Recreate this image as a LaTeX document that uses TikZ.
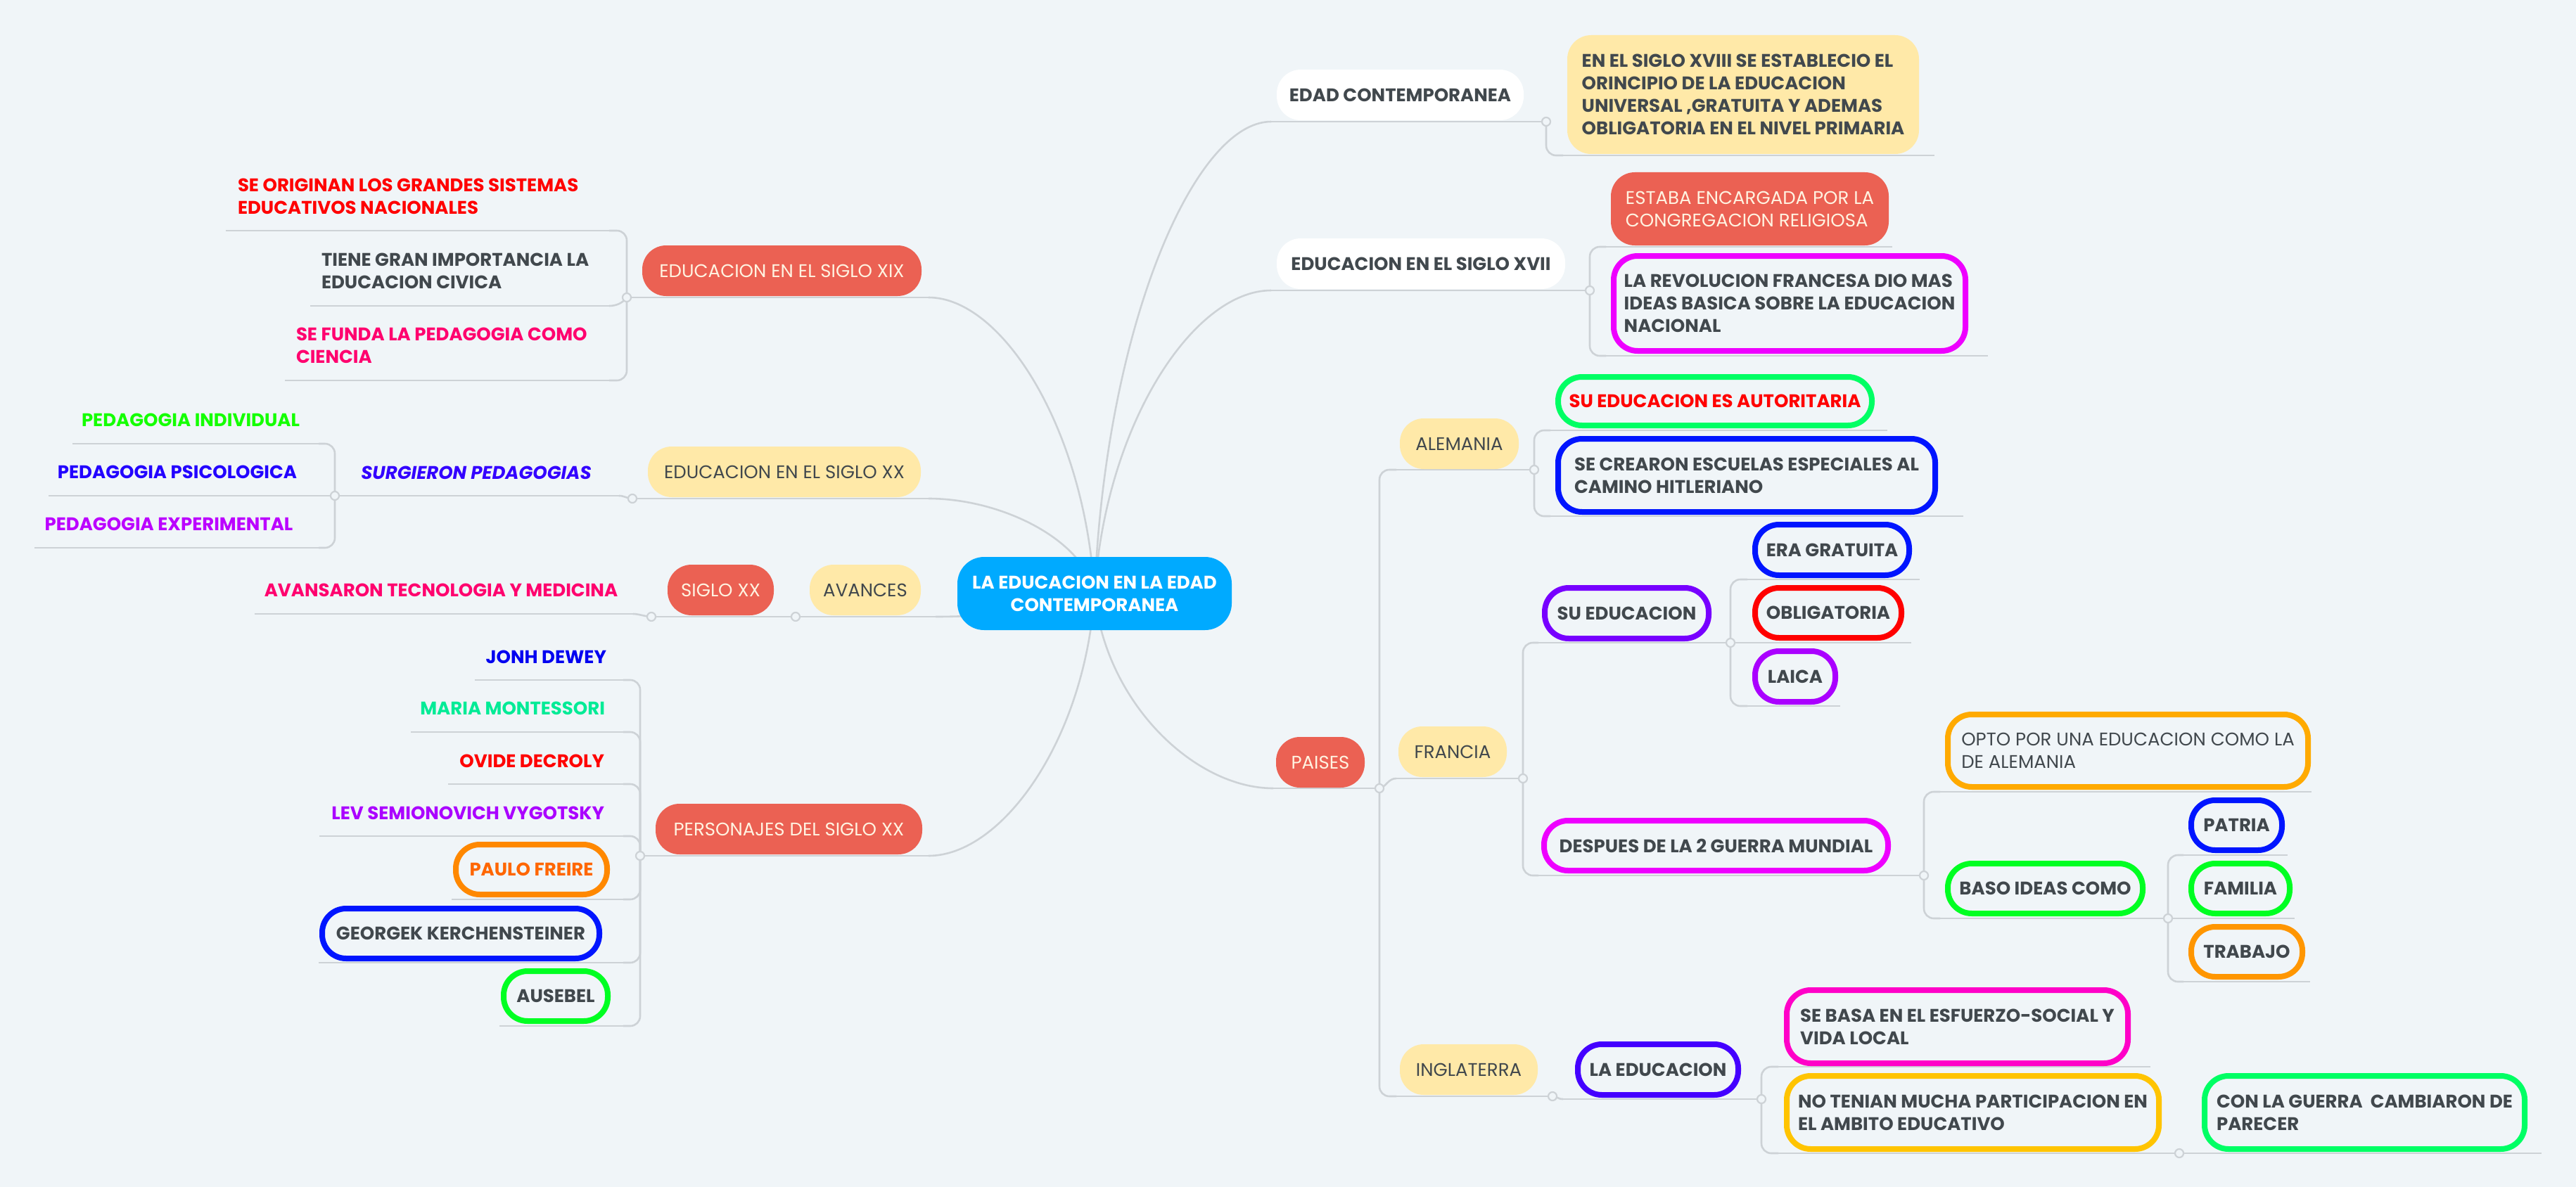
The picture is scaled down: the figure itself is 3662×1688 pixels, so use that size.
\documentclass[tikz,border=0pt]{standalone}
\usepackage{fontspec}
\setmainfont{Poppins}
\usetikzlibrary{calc}
\definecolor{bgc}{RGB}{240,245,248}
\definecolor{lnc}{RGB}{205,210,214}
\definecolor{txt}{RGB}{65,72,77}
\definecolor{nred}{RGB}{235,97,83}
\definecolor{nyel}{RGB}{255,233,168}
\definecolor{nblue}{RGB}{0,170,255}
\definecolor{cream}{RGB}{255,243,225}
\definecolor{cRed}{RGB}{255,0,0}
\definecolor{cBlue}{RGB}{0,21,255}
\definecolor{cGreenA}{RGB}{0,255,100}
\definecolor{cGreenB}{RGB}{0,255,34}
\definecolor{cMag}{RGB}{238,0,255}
\definecolor{cPink}{RGB}{255,0,200}
\definecolor{cRose}{RGB}{255,0,110}
\definecolor{cViol}{RGB}{170,0,255}
\definecolor{cPurp}{RGB}{119,0,255}
\definecolor{cIndi}{RGB}{68,0,255}
\definecolor{cAmber}{RGB}{255,170,0}
\definecolor{cGold}{RGB}{255,196,0}
\definecolor{cOrng}{RGB}{255,150,0}
\definecolor{cFrB}{RGB}{255,136,0}
\definecolor{cFrT}{RGB}{255,102,0}
\definecolor{cTeal}{RGB}{0,235,150}
\definecolor{cLime}{RGB}{20,255,0}
\definecolor{cSurg}{RGB}{51,0,255}
\definecolor{cPsi}{RGB}{34,0,255}
\definecolor{cExp}{RGB}{187,0,255}
\definecolor{cDew}{RGB}{0,0,240}
\newcommand\fs{\fontsize{26pt}{32pt}\selectfont}
\pgfdeclarelayer{bgl}
\pgfdeclarelayer{lines}
\pgfsetlayers{bgl,lines,main}
\begin{document}
\begin{tikzpicture}[x=1pt,y=-1pt,
  every node/.style={font=\fs, inner sep=0pt, outer sep=0pt},
  box/.style={rectangle, rounded corners=34pt, align=center, text=txt},
  rbox/.style={box, fill=nred, text=cream},
  ybox/.style={box, fill=nyel},
  wbox/.style={box, fill=white, font=\fs\bfseries},
  bbox/.style={box, fill=bgc, line width=8pt, font=\fs\bfseries},
  plain/.style={font=\fs\bfseries, align=left},
  wh/.style 2 args={minimum width=#1pt, minimum height=#2pt},
  conn/.style={draw=lnc, line width=2.6pt},
  elbow/.style={conn, rounded corners=14pt},
  junc/.style={circle, draw=lnc, fill=bgc, line width=2.2pt, minimum size=12pt}]
\useasboundingbox (0,0) rectangle (3662,1688);
\begin{pgfonlayer}{bgl}
\fill[bgc] (0,0) rectangle (3662,1688);
\end{pgfonlayer}

% ---------- root ----------
\node[box, fill=nblue, text=white, font=\fs\bfseries, rounded corners=38pt, wh={390}{104}] (root) at (1556,844) {LA EDUCACION EN LA EDAD\\CONTEMPORANEA};

% ---------- right side ----------
\node[wbox, wh={351}{72}] (ec) at (1990.5,135) {EDAD CONTEMPORANEA};
\node[ybox, font=\fs\bfseries, align=left, wh={500}{169}] (ec1) at (2478,134.5) {EN EL SIGLO XVIII SE ESTABLECIO EL\\ORINCIPIO DE LA EDUCACION\\UNIVERSAL ,GRATUITA Y ADEMAS\\OBLIGATORIA EN EL NIVEL PRIMARIA};
\node[wbox, wh={410}{72}] (xvii) at (2020,375) {EDUCACION EN EL SIGLO XVII};
\node[rbox, align=left, wh={395}{104}] (xa) at (2487.5,297) {ESTABA ENCARGADA POR LA\\CONGREGACION RELIGIOSA};
\node[bbox, draw=cMag, align=left, wh={500}{135}] (xb) at (2544,431.5) {LA REVOLUCION FRANCESA DIO MAS\\IDEAS BASICA SOBRE LA EDUCACION\\NACIONAL};

\node[rbox, wh={126}{72}] (paises) at (1877,1084) {PAISES};
\node[ybox, wh={169}{72}] (alem) at (2074.5,631) {ALEMANIA};
\node[bbox, draw=cGreenA, text=cRed, wh={446}{69}] (aut) at (2438,570.5) {SU EDUCACION ES AUTORITARIA};
\node[bbox, draw=cBlue, align=left, wh={536}{104}] (crea) at (2483,676) {SE CREARON ESCUELAS ESPECIALES AL\\CAMINO HITLERIANO};

\node[ybox, wh={154}{72}] (fran) at (2065,1069) {FRANCIA};
\node[bbox, draw=cPurp, wh={233}{72}] (sued) at (2312.5,872) {SU EDUCACION};
\node[bbox, draw=cBlue, wh={219}{72}] (era) at (2604.5,782) {ERA GRATUITA};
\node[bbox, draw=cRed, wh={208}{71}] (obl) at (2599,871.5) {OBLIGATORIA};
\node[bbox, draw=cViol, wh={114}{72}] (laica) at (2552,962) {LAICA};
\node[bbox, draw=cMag, wh={489}{71}] (desp) at (2439.5,1202.5) {DESPUES DE LA 2 GUERRA MUNDIAL};
\node[bbox, draw=cAmber, font=\fs, align=left, wh={512}{103}] (opto) at (3025,1067.5) {OPTO POR UNA EDUCACION COMO LA\\DE ALEMANIA};
\node[bbox, draw=cGreenB, wh={277}{71}] (baso) at (2907.5,1263.5) {BASO IDEAS COMO};
\node[bbox, draw=cBlue, wh={129}{71}] (patria) at (3179.5,1173.5) {PATRIA};
\node[bbox, draw=cGreenB, wh={140}{71}] (fam) at (3185,1263.5) {FAMILIA};
\node[bbox, draw=cOrng, wh={158}{71}] (trab) at (3194,1353.5) {TRABAJO};

\node[ybox, wh={196}{72}] (ingl) at (2088,1521) {INGLATERRA};
\node[bbox, draw=cIndi, wh={228}{72}] (laedu) at (2357,1521) {LA EDUCACION};
\node[bbox, draw=cPink, align=left, wh={485}{104}] (sebasa) at (2782.5,1460) {SE BASA EN EL ESFUERZO-SOCIAL Y\\VIDA LOCAL};
\node[bbox, draw=cGold, align=left, wh={529}{104}] (noten) at (2804.5,1582) {NO TENIAN MUCHA PARTICIPACION EN\\EL AMBITO EDUCATIVO};
\node[bbox, draw=cGreenA, align=left, wh={455}{104}] (guerra) at (3361.5,1582) {CON LA GUERRA~ CAMBIARON DE\\PARECER};

% ---------- left side ----------
\node[rbox, wh={397}{72}] (xix) at (1111.5,385) {EDUCACION EN EL SIGLO XIX};
\node[plain, text=cRed, anchor=west] (orig) at (338,279) {SE ORIGINAN LOS GRANDES SISTEMAS\\EDUCATIVOS NACIONALES};
\node[plain, text=txt, anchor=west] (tiene) at (457,385) {TIENE GRAN IMPORTANCIA LA\\EDUCACION CIVICA};
\node[plain, text=cRose, anchor=west] (funda) at (421,491) {SE FUNDA LA PEDAGOGIA COMO\\CIENCIA};

\node[ybox, wh={388}{72}] (xx) at (1115,671) {EDUCACION EN EL SIGLO XX};
\node[plain, text=cSurg, font=\fs\bfseries\itshape] (surg) at (677,672) {SURGIERON PEDAGOGIAS};
\node[plain, text=cLime] (indiv) at (271,597) {PEDAGOGIA INDIVIDUAL};
\node[plain, text=cPsi] (psico) at (252,671) {PEDAGOGIA PSICOLOGICA};
\node[plain, text=cExp] (exper) at (240,745) {PEDAGOGIA EXPERIMENTAL};

\node[ybox, wh={158}{72}] (avan) at (1230,839) {AVANCES};
\node[rbox, wh={151}{72}] (sxx) at (1024.5,839) {SIGLO XX};
\node[plain, text=cRose] (avans) at (627,839) {AVANSARON TECNOLOGIA Y MEDICINA};

\node[rbox, wh={379}{72}] (pers) at (1121.5,1179) {PERSONAJES DEL SIGLO XX};
\node[plain, text=cDew, anchor=east] (dewey) at (862,934) {JONH DEWEY};
\node[plain, text=cTeal, anchor=east] (mont) at (860,1007) {MARIA MONTESSORI};
\node[plain, text=cRed, anchor=east] (decr) at (859,1082) {OVIDE DECROLY};
\node[plain, text=cViol, anchor=east] (vyg) at (859,1156) {LEV SEMIONOVICH VYGOTSKY};
\node[bbox, draw=cFrB, text=cFrT, wh={215}{71}] (freire) at (755.5,1236.5) {PAULO FREIRE};
\node[bbox, draw=cBlue, wh={394}{71}] (kers) at (655,1327.5) {GEORGEK KERCHENSTEINER};
\node[bbox, draw=cGreenB, wh={148}{71}] (ause) at (790,1416.5) {AUSEBEL};

% ---------- junctions ----------
\node[junc] (jEC) at (2198,173) {};
\node[junc] (jXV) at (2260,413) {};
\node[junc] (jP) at (1961,1121) {};
\node[junc] (jA) at (2181,668) {};
\node[junc] (jF) at (2165,1107) {};
\node[junc] (jS) at (2460,914) {};
\node[junc] (jD) at (2735,1245) {};
\node[junc] (jB) at (3082,1306) {};
\node[junc] (jI) at (2207,1559) {};
\node[junc] (jL) at (2504,1563) {};
\node[junc] (jN) at (3098,1640) {};
\node[junc] (jX) at (891,423) {};
\node[junc] (jXX) at (899,709) {};
\node[junc] (jSu) at (476,705) {};
\node[junc] (jAv) at (1131,877) {};
\node[junc] (jSx) at (926,877) {};
\node[junc] (jPe) at (910,1217) {};

% ---------- underline end points ----------
\coordinate (ecS) at (1807,173);
\coordinate (ec1S) at (2222,221); \coordinate (ec1E) at (2750,221);
\coordinate (xvS) at (1807,413);
\coordinate (xaS) at (2283,351); \coordinate (xaE) at (2690,351);
\coordinate (xbS) at (2283,506); \coordinate (xbE) at (2826,506);
\coordinate (pS) at (1810,1121);
\coordinate (aS) at (1985,668);
\coordinate (autS) at (2204,612); \coordinate (autE) at (2683,612);
\coordinate (creS) at (2204,734); \coordinate (creE) at (2791,734);
\coordinate (fS) at (1985,1107);
\coordinate (sS) at (2187,914);
\coordinate (eS) at (2484,824); \coordinate (eE) at (2729,824);
\coordinate (oS) at (2470,914); \coordinate (oE) at (2717,914);
\coordinate (lS) at (2484,1004); \coordinate (lE) at (2616,1004);
\coordinate (dS) at (2187,1245);
\coordinate (opS) at (2758,1126); \coordinate (opE) at (3286,1126);
\coordinate (bS) at (2758,1306);
\coordinate (paS) at (3104,1216); \coordinate (paE) at (3252,1216);
\coordinate (faS) at (3092,1306); \coordinate (faE) at (3262,1306);
\coordinate (trS) at (3104,1396); \coordinate (trE) at (3284,1396);
\coordinate (iS) at (1985,1559);
\coordinate (leS) at (2222,1563);
\coordinate (sbS) at (2528,1517); \coordinate (sbE) at (3057,1517);
\coordinate (ntS) at (2528,1640);
\coordinate (gS) at (3110,1640); \coordinate (gE) at (3613,1640);
\coordinate (xixE) at (1320,423);
\coordinate (orS) at (321,328); \coordinate (orE) at (866,328);
\coordinate (tiS) at (441,435); \coordinate (tiE) at (866,435);
\coordinate (fuS) at (405,541); \coordinate (fuE) at (866,541);
\coordinate (xxE) at (1320,709);
\coordinate (suE) at (880,705);
\coordinate (inS) at (103,631); \coordinate (inE) at (453,631);
\coordinate (psS) at (69,705);
\coordinate (exS) at (49,779); \coordinate (exE) at (453,779);
\coordinate (avE) at (1330,877);
\coordinate (sxE) at (1120,877);
\coordinate (anS) at (362,873); \coordinate (anE) at (900,873);
\coordinate (peE) at (1320,1217);
\coordinate (dwS) at (675,967); \coordinate (dwE) at (886,967);
\coordinate (moS) at (584,1041); \coordinate (moE) at (886,1041);
\coordinate (deS) at (637,1115); \coordinate (deE) at (886,1115);
\coordinate (vyS) at (454,1189); \coordinate (vyE) at (886,1189);
\coordinate (frS) at (642,1279); \coordinate (frE) at (886,1279);
\coordinate (keS) at (453,1369); \coordinate (keE) at (886,1369);
\coordinate (auS) at (710,1459); \coordinate (auE) at (886,1459);

\begin{pgfonlayer}{lines}
% root connectors
\draw[conn] (root.center) .. controls +(15,-376) and +(-110,0) .. (ecS);
\draw[conn] (root.center) .. controls +(15,-241) and +(-110,0) .. (xvS);
\draw[conn] (root.center) .. controls +(15,155) and +(-112,0) .. (pS);
\draw[conn] (root.center) .. controls +(-14,-236) and +(104,0) .. (xixE);
\draw[conn] (root.center) .. controls +(-14,-76) and +(104,0) .. (xxE);
\draw[conn] (root.center) .. controls +(-14,18) and +(99,0) .. (avE);
\draw[conn] (root.center) .. controls +(-14,209) and +(104,0) .. (peE);

% underlines
\draw[conn] (ecS) -- (jEC.center);
\draw[conn] (ec1S) -- (ec1E);
\draw[conn] (xvS) -- (jXV.center);
\draw[conn] (xaS) -- (xaE);
\draw[conn] (xbS) -- (xbE);
\draw[conn] (pS) -- (jP.center);
\draw[conn] (aS) -- (jA.center);
\draw[conn] (autS) -- (autE);
\draw[conn] (creS) -- (creE);
\draw[conn] (fS) -- (jF.center);
\draw[conn] (sS) -- (jS.center);
\draw[conn] (eS) -- (eE);
\draw[conn] (oS) -- (oE);
\draw[conn] (lS) -- (lE);
\draw[conn] (dS) -- (jD.center);
\draw[conn] (opS) -- (opE);
\draw[conn] (bS) -- (jB.center);
\draw[conn] (paS) -- (paE);
\draw[conn] (faS) -- (faE);
\draw[conn] (trS) -- (trE);
\draw[conn] (iS) -- (jI.center);
\draw[conn] (leS) -- (jL.center);
\draw[conn] (sbS) -- (sbE);
\draw[conn] (ntS) -- (jN.center);
\draw[conn] (gS) -- (gE);
\draw[conn] (jX.center) -- (xixE);
\draw[conn] (orS) -- (orE);
\draw[conn] (tiS) -- (tiE);
\draw[conn] (fuS) -- (fuE);
\draw[conn] (jXX.center) -- (xxE);
\draw[conn] (jSu.center) -- (suE);
\draw[conn] (inS) -- (inE);
\draw[conn] (psS) -- (jSu.center);
\draw[conn] (exS) -- (exE);
\draw[conn] (jAv.center) -- (avE);
\draw[conn] (jSx.center) -- (sxE);
\draw[conn] (anS) -- (anE);
\draw[conn] (jPe.center) -- (peE);
\draw[conn] (dwS) -- (dwE);
\draw[conn] (moS) -- (moE);
\draw[conn] (deS) -- (deE);
\draw[conn] (vyS) -- (vyE);
\draw[conn] (frS) -- (frE);
\draw[conn] (keS) -- (keE);
\draw[conn] (auS) -- (auE);

% branch connectors (right)
\draw[elbow] (jEC.center) |- (ec1S);
\draw[elbow] (jXV.center) |- (xaS);
\draw[elbow] (jXV.center) |- (xbS);
\draw[elbow] (jP.center) |- (aS);
\draw[conn] (jP.center) .. controls +(10,-2) and +(-12,0) .. (fS);
\draw[elbow] (jP.center) |- (iS);
\draw[elbow] (jA.center) |- (autS);
\draw[elbow] (jA.center) |- (creS);
\draw[elbow] (jF.center) |- (sS);
\draw[elbow] (jF.center) |- (dS);
\draw[elbow] (jS.center) |- (eS);
\draw[conn] (jS.center) -- (oS);
\draw[elbow] (jS.center) |- (lS);
\draw[elbow] (jD.center) |- (opS);
\draw[elbow] (jD.center) |- (bS);
\draw[elbow] (jB.center) |- (paS);
\draw[conn] (jB.center) -- (faS);
\draw[elbow] (jB.center) |- (trS);
\draw[conn] (jI.center) .. controls +(7,0) and +(-8,0) .. (leS);
\draw[elbow] (jL.center) |- (sbS);
\draw[elbow] (jL.center) |- (ntS);
\draw[conn] (jN.center) -- (gS);

% branch connectors (left)
\draw[elbow] (jX.center) |- (orE);
\draw[conn] (jX.center) .. controls +(-6,8) and +(10,0) .. (tiE);
\draw[elbow] (jX.center) |- (fuE);
\draw[conn] (jXX.center) .. controls +(-8,0) and +(8,0) .. (suE);
\draw[elbow] (jSu.center) |- (inE);
\draw[elbow] (jSu.center) |- (exE);
\draw[conn] (jAv.center) -- (sxE);
\draw[conn] (jSx.center) .. controls +(-8,0) and +(8,0) .. (anE);
\draw[elbow] (jPe.center) |- (dwE);
\draw[elbow] (jPe.center) |- (moE);
\draw[elbow] (jPe.center) |- (deE);
\draw[elbow] (jPe.center) |- (vyE);
\draw[elbow] (jPe.center) |- (frE);
\draw[elbow] (jPe.center) |- (keE);
\draw[elbow] (jPe.center) |- (auE);
\end{pgfonlayer}
\end{tikzpicture}
\end{document}
